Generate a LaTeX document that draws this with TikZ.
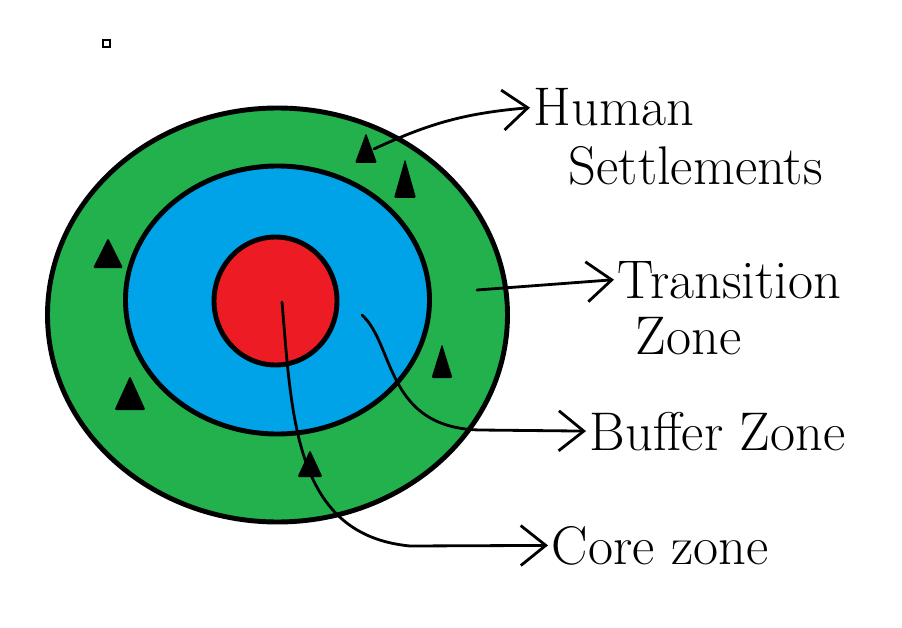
\documentclass[tikz,border=0pt]{standalone}
\usetikzlibrary{arrows.meta}
\definecolor{zonegreen}{RGB}{34,177,76}
\definecolor{zoneblue}{RGB}{0,162,232}
\definecolor{zonered}{RGB}{237,28,36}
\tikzset{
  ring/.style={draw=black, line width=2.8pt},
  pointer/.style={line width=1.6pt, line cap=round, -{Straight Barb[length=5mm,width=8mm]}},
  zonelabel/.style={anchor=base west, inner sep=2pt, font=\fontsize{31}{36}\selectfont},
}

\begin{document}
\begin{tikzpicture}[x=0.02cm,y=-0.02cm]
  \useasboundingbox (0,0) rectangle (902,628);
  \draw[line width=0.8pt] (103,40) rectangle (110,47);
  % the three zones
  \draw[ring,fill=zonegreen] (277.5,315) ellipse [x radius=230,y radius=207];
  \draw[ring,fill=zoneblue] (277.5,300) ellipse [x radius=152,y radius=134];
  \draw[ring,fill=zonered] (275.5,301) ellipse [x radius=61.5,y radius=64];
  % settlements
  \foreach \x/\y/\w/\h in {366/163/22/30, 405/198/22/39, 108/268/30/30, 130/410/31/34, 442/378/21/34, 310/477/25/27}
    \fill[rounded corners=0.8pt] (\x-\w/2,\y) -- (\x,\y-\h) -- (\x+\w/2,\y) -- cycle;
  % labels
  \node[zonelabel] (humanA) at (530,126) {Human};
  \node[zonelabel] (humanB) at (565,185) {Settlements};
  \node[zonelabel] (trans) at (614,298) {Transition};
  \node[zonelabel] (transB) at (632,354) {Zone};
  \node[zonelabel] (buffer) at (586,450) {Buffer Zone};
  \node[zonelabel] (core) at (548,564) {Core zone};
  \coordinate (humanfoot) at (374,149);
  \coordinate (transfoot) at (477,290);
  \coordinate (bufferfoot) at (362,315);
  \coordinate (corefoot) at (282,302);
  % pointers
  \draw[pointer] (humanfoot) to[out=25,in=185] (humanA.west);
  \draw[pointer] (transfoot) -- (trans.west);
  \draw[pointer] (bufferfoot) .. controls (395,345) and (385,428) .. (480,430) -- (buffer.west);
  \draw[pointer] (corefoot) .. controls (292,420) and (295,535) .. (410,546) -- (core.west);
\end{tikzpicture}
\end{document}
